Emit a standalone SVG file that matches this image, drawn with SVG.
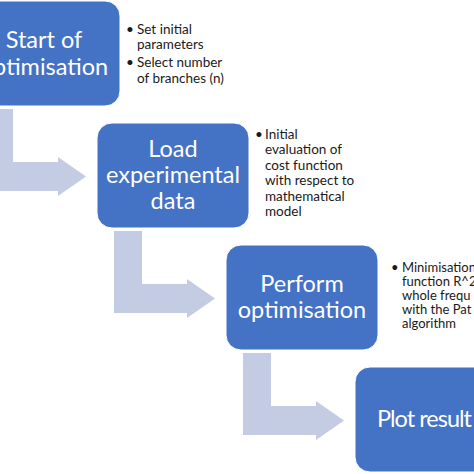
<svg xmlns="http://www.w3.org/2000/svg" width="474" height="474" viewBox="0 0 474 474">
<defs>
<style>
.box{fill:#4472C4;stroke:#ffffff;stroke-width:1}
.lbl{font-family:Lato,"Noto Sans",sans-serif;font-size:23.5px;fill:#ffffff;text-anchor:middle}
.bt{font-family:Lato,"Noto Sans",sans-serif;font-size:13.5px;fill:#1a1a1a}
.bt3{font-size:13px}
.arr{fill:#C4CCE4}
</style>
<path id="bent" d="M0 0 H28 V53 H73 V48 L101 67.5 L73 87 V82 H0 Z"/>
</defs>
<rect width="474" height="474" fill="#ffffff"/>
<g id="connectors" class="arr">
<use href="#bent" transform="translate(-15,109)"/>
<use href="#bent" transform="translate(114,231)"/>
<use href="#bent" transform="translate(243,353)"/>
</g>
<g id="node1">
<rect class="box" x="-32" y="1" width="152" height="105" rx="15"/>
<text class="lbl" x="44" y="48">Start of</text>
<text class="lbl" x="44" y="75">optimisation</text>
</g>
<g id="note1" class="bt">
<text x="126" y="34">•</text><text x="137" y="34">Set initial</text>
<text x="137" y="49">parameters</text>
<text x="126" y="67">•</text><text x="137" y="67">Select number</text>
<text x="137" y="83">of branches (n)</text>
</g>
<g id="node2">
<rect class="box" x="97" y="123" width="152" height="105" rx="15"/>
<text class="lbl" x="173" y="157">Load</text>
<text class="lbl" x="173" y="183">experimental</text>
<text class="lbl" x="173" y="209">data</text>
</g>
<g id="note2" class="bt">
<text x="255" y="139">•</text><text x="265" y="139">Initial</text>
<text x="265" y="154.4">evaluation of</text>
<text x="265" y="169.8">cost function</text>
<text x="265" y="185.2">with respect to</text>
<text x="265" y="200.6">mathematical</text>
<text x="265" y="216">model</text>
</g>
<g id="node3">
<rect class="box" x="226" y="245" width="152" height="105" rx="15"/>
<text class="lbl" x="302" y="292">Perform</text>
<text class="lbl" x="302" y="318">optimisation</text>
</g>
<g id="note3" class="bt bt3">
<text x="391" y="272">•</text><text x="402" y="272">Minimisation</text>
<text x="402" y="286">function R^2</text>
<text x="402" y="300">whole frequ</text>
<text x="402" y="314">with the Pat</text>
<text x="402" y="328">algorithm</text>
</g>
<g id="node4">
<rect class="box" x="355" y="367" width="152" height="105" rx="15"/>
<text class="lbl" x="377" y="427" style="text-anchor:start" textLength="95" lengthAdjust="spacing">Plot result</text>
</g>
</svg>
